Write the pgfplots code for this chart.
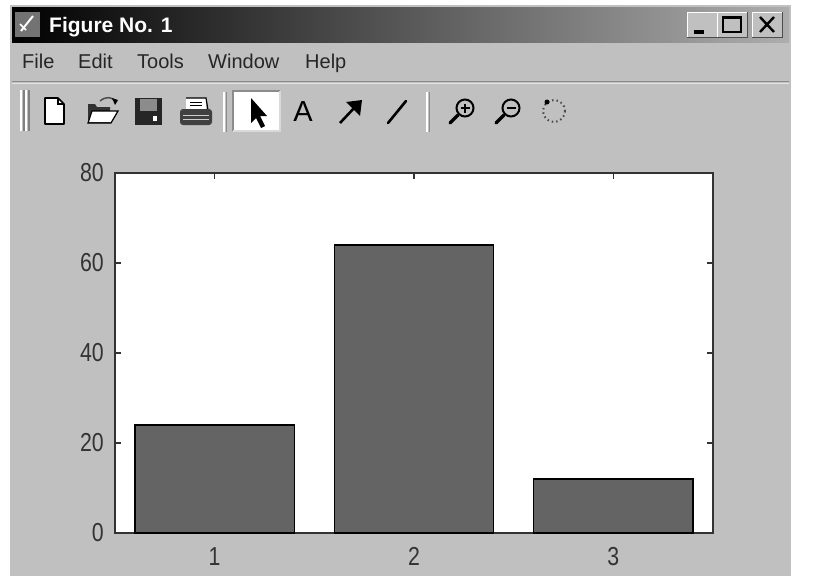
\documentclass[border=0pt]{standalone}
\usepackage{fontspec}
\usepackage{pgfplots}
\pgfplotsset{compat=1.18}
\setmainfont{Liberation Sans}
\newfontfamily\tickfont[FakeStretch=0.82]{Liberation Sans}
\definecolor{winbg}{HTML}{C0C0C0}
\definecolor{barfill}{HTML}{646464}
\definecolor{axcol}{HTML}{333333}
\begin{document}
\begin{tikzpicture}
\path[use as bounding box] (0,0) rectangle (816pt,-576pt);
\begin{scope}[x=1pt,y=-1pt]
\fill[white] (0,0) rectangle (816,576);
\fill[winbg] (10,5) rectangle (791,576);
% title bar
\shade[left color=black, right color=black!32] (12,7) rectangle (789,42);
\fill[black!55] (15,12) rectangle (40,37);
\draw[white, line width=2pt] (21,31) -- (33,16);
\draw[white, line width=1.5pt] (20,24) -- (26,30);
\node[anchor=base west, text=white, inner sep=0pt, font=\bfseries\fontsize{21}{24}\selectfont] at (49,32) {Figure No. 1};
\foreach \x/\w in {687/30,717/30,752/30}{
  \fill[winbg] (\x,12) rectangle ++(\w,25);
  \draw[white, line width=1pt] (\x,37) -- (\x,12) -- ++(\w,0);
  \draw[black!70, line width=1pt] (\x,37) -- ++(\w,0) -- ++(0,-25);
}
\fill[black] (694,30) rectangle (704,34);
\draw[black, line width=1.5pt] (723,16.5) rectangle (741,32);
\draw[black, line width=2pt] (722,17.5) -- (742,17.5);
\draw[black, line width=2.4pt] (760,17) -- (774,32) (760,32) -- (774,17);
% menu
\foreach \x/\t in {22/File,78/Edit,137/Tools,208/Window,305/Help}{
  \node[anchor=base west, inner sep=0pt, text=black!85, font=\fontsize{20}{24}\selectfont] at (\x,68) {\t};
}
\draw[black!45, line width=1.5pt] (12,81.5) -- (789,81.5);
\draw[white!90!black, line width=1pt] (12,83.5) -- (789,83.5);
% toolbar handle
\draw[white, line width=1.5pt] (21,90) -- (21,131);
\draw[black!50, line width=1.5pt] (24,90) -- (24,131);
\draw[white, line width=1.5pt] (26,90) -- (26,131);
\draw[black!50, line width=1.5pt] (29,90) -- (29,131);
% new doc
\draw[black, line width=1.6pt, fill=white, line join=round] (45,98) -- (58,98) -- (64,104) -- (64,124) -- (45,124) -- cycle;
\draw[black, line width=1.2pt] (58,98) -- (58,104) -- (64,104);
% open folder
\fill[black!80] (88,104) -- (95,104) -- (97,107) -- (110,107) -- (110,123) -- (88,123) -- cycle;
\fill[white] (92,111) -- (118,111) -- (111,122) -- (88,122) -- cycle;
\draw[black, line width=1.2pt] (92,111) -- (118,111) -- (111,123) -- (88,123) -- cycle;
\draw[black!70, line width=1.5pt] (100,101) .. controls (106,96) and (112,97) .. (115,101);
\fill[black] (118,100) -- (112,98) -- (115,105) -- cycle;
% save
\fill[black!85] (135,98) rectangle (162,125);
\fill[black!45] (140,99) rectangle (157,111);
\fill[white] (153,116) rectangle (157,121);
% print
\fill[white] (186,98) rectangle (206,109);
\draw[black, line width=1.2pt] (186,98) -- (206,98) -- (208,110);
\draw[black, line width=1pt] (190,102) -- (202,102) (190,105) -- (202,105);
\fill[black!75, rounded corners=3pt] (180,109) rectangle (212,125);
\draw[white!80!black, line width=1pt] (183,115) -- (209,115) (183,119) -- (209,119);
% separator
\draw[white, line width=1.2pt] (224,92) -- (224,132);
\draw[black!45, line width=1.2pt] (226.5,92) -- (226.5,132);
% selected arrow
\fill[white] (233,91) rectangle (280,131);
\draw[black!45, line width=1.5pt] (233,131) -- (233,91) -- (280,91);
\draw[white!85!black, line width=1.2pt] (233,131) -- (280,131) -- (280,91);
\fill[black] (251,98) -- (251,123) -- (256,118) -- (261,128) -- (265,126) -- (260,116) -- (267,116) -- cycle;
% A
\node[inner sep=0pt, font=\fontsize{29}{30}\selectfont] at (303,112) {A};
% arrow
\draw[black, line width=2.6pt] (340,123) -- (356,106);
\fill[black] (362,100) -- (346,102) -- (360,116) -- cycle;
% line
\draw[black, line width=2.6pt, line cap=round] (388,123) -- (406,101);
% separator
\draw[white, line width=1.2pt] (427,92) -- (427,132);
\draw[black!45, line width=1.2pt] (429.5,92) -- (429.5,132);
% zoom in
\draw[black, line width=2pt] (465,108) circle (8.5);
\draw[black, line width=3.5pt, line cap=round] (458,115) -- (450,123);
\draw[black, line width=2.2pt] (460.5,108) -- (469.5,108) (465,103.5) -- (465,112.5);
% zoom out
\draw[black, line width=2pt] (511,108) circle (8.5);
\draw[black, line width=3.5pt, line cap=round] (504,115) -- (496,123);
\draw[black, line width=2.5pt] (506.5,108) -- (515.5,108);
% rotate
\draw[black!70, line width=2pt, dash pattern=on 1.5pt off 3pt] (554,111) circle (11);
\fill[black] (547,102) circle (2.5);
\end{scope}
\begin{axis}[at={(115pt,-533pt)}, anchor=south west,
  width=598pt, height=360pt, scale only axis,
  xmin=0.5, xmax=3.5, ymin=0, ymax=80,
  xtick={1,2,3}, ytick={0,20,40,60,80},
  tick align=inside, major tick length=6pt,
  axis line style={axcol, line width=1.3pt},
  tick style={axcol, line width=1.3pt},
  axis background/.style={fill=white},
  /pgf/number format/assume math mode=true,
  ticklabel style={font=\tickfont\fontsize{26}{28}\selectfont, text=black!80},
  yticklabel style={inner sep=0pt, xshift=-11pt},
  xticklabel style={inner sep=0pt, yshift=-14pt}]
\addplot[ybar, bar width=0.8, fill=barfill, draw=black, line width=1.2pt] coordinates {(1,24) (2,64) (3,12)};
\end{axis}
\end{tikzpicture}
\end{document}
